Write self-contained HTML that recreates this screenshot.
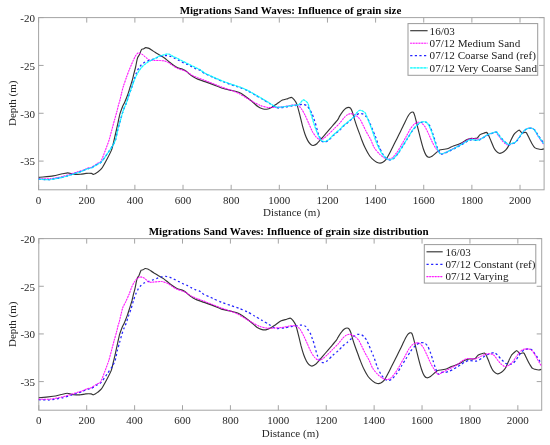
<!DOCTYPE html>
<html><head><meta charset="utf-8"><title>Migrations Sand Waves</title>
<style>
html,body{margin:0;padding:0;background:#fff}
svg{display:block;filter:blur(0.3px)}
text{font-family:"Liberation Serif",serif;fill:#262626}
.tk{font-size:11px}
.lb{font-size:11px}
.lg{font-size:11.1px;fill:#1a1a1a}
.tt{font-size:11px;font-weight:bold;fill:#000}
.c{fill:none;stroke-linejoin:round;stroke-linecap:butt}
.k{stroke:#353535;stroke-width:1.15}
.m0{stroke:#ff00ff;stroke-width:1;stroke-opacity:.4}
.m1{stroke:#ff00ff;stroke-width:1.05;stroke-dasharray:1.6 1.2;stroke-opacity:.85}
.b{stroke:#2424ff;stroke-width:1.25;stroke-dasharray:2.2 2.4}
.c0{stroke:#00ffff;stroke-width:1.15;stroke-opacity:.6}
.c1{stroke:#00f6ff;stroke-width:1.1;stroke-dasharray:2.2 1.2;stroke-opacity:.8}
</style></head><body>
<svg width="550" height="445" viewBox="0 0 550 445">
<rect width="550" height="445" fill="#fff"/>
<!-- top axes -->
<rect x="38.6" y="17.6" width="505.50" height="172.20" fill="#fff" stroke="#a4a4a4" stroke-width="1"/>
<path d="M38.6,189.8v-5M38.6,17.6v5M86.74,189.8v-5M86.74,17.6v5M134.89,189.8v-5M134.89,17.6v5M183.03,189.8v-5M183.03,17.6v5M231.17,189.8v-5M231.17,17.6v5M279.31,189.8v-5M279.31,17.6v5M327.46,189.8v-5M327.46,17.6v5M375.6,189.8v-5M375.6,17.6v5M423.74,189.8v-5M423.74,17.6v5M471.89,189.8v-5M471.89,17.6v5M520.03,189.8v-5M520.03,17.6v5M38.6,17.6h5M544.1,17.6h-5M38.6,65.43h5M544.1,65.43h-5M38.6,113.27h5M544.1,113.27h-5M38.6,161.1h5M544.1,161.1h-5" stroke="#a4a4a4" stroke-width="1" fill="none"/>
<text x="38.6" y="204.0" text-anchor="middle" class="tk">0</text>
<text x="86.7" y="204.0" text-anchor="middle" class="tk">200</text>
<text x="134.9" y="204.0" text-anchor="middle" class="tk">400</text>
<text x="183.0" y="204.0" text-anchor="middle" class="tk">600</text>
<text x="231.2" y="204.0" text-anchor="middle" class="tk">800</text>
<text x="279.3" y="204.0" text-anchor="middle" class="tk">1000</text>
<text x="327.5" y="204.0" text-anchor="middle" class="tk">1200</text>
<text x="375.6" y="204.0" text-anchor="middle" class="tk">1400</text>
<text x="423.7" y="204.0" text-anchor="middle" class="tk">1600</text>
<text x="471.9" y="204.0" text-anchor="middle" class="tk">1800</text>
<text x="520.0" y="204.0" text-anchor="middle" class="tk">2000</text>
<text x="34.9" y="21.9" text-anchor="end" class="tk">-20</text>
<text x="34.9" y="69.7" text-anchor="end" class="tk">-25</text>
<text x="34.9" y="117.6" text-anchor="end" class="tk">-30</text>
<text x="34.9" y="165.4" text-anchor="end" class="tk">-35</text>
<text x="290.5" y="13.6" text-anchor="middle" class="tt">Migrations Sand Waves: Influence of grain size</text>
<text x="291.5" y="216.3" text-anchor="middle" class="lb">Distance (m)</text>
<text transform="translate(16.2,103.3) rotate(-90)" text-anchor="middle" class="lb">Depth (m)</text>
<g clip-path="url(#cp1)">
<path d="M38.6,177.4C40.2,177.2 50.6,176.3 53.2,175.9C55.8,175.5 60.7,174.1 62.3,173.8C63.9,173.5 66.6,172.8 67.8,172.8C69.0,172.8 71.9,173.9 73.3,174.1C74.7,174.3 79.1,174.4 80.5,174.3C81.9,174.2 84.8,173.5 86.0,173.4C87.2,173.3 90.6,173.3 91.5,173.4C92.4,173.5 93.0,174.5 93.7,174.3C94.4,174.1 96.9,172.5 97.8,171.9C98.7,171.3 100.6,169.9 101.5,168.7C102.4,167.5 104.9,163.1 106.0,161.0C107.1,158.9 110.6,152.4 111.5,150.1C112.4,147.8 113.6,142.2 114.1,140.0C114.6,137.8 115.9,132.0 116.4,130.0C116.9,128.0 117.8,123.6 118.2,121.8C118.6,120.0 119.5,115.2 120.0,113.6C120.5,112.0 121.8,108.6 122.3,107.3C122.8,106.0 124.2,103.4 124.8,102.0C125.4,100.6 127.1,96.3 127.7,94.7C128.3,93.1 129.5,89.1 130.0,87.5C130.5,85.9 131.8,81.8 132.3,80.2C132.8,78.6 133.7,74.3 134.1,72.9C134.5,71.5 135.2,68.7 135.5,67.5C135.8,66.3 136.4,63.1 136.6,62.0C136.8,60.9 137.4,58.3 137.7,57.5C138.0,56.7 139.2,55.2 139.5,54.5C139.8,53.8 140.4,52.2 140.6,51.6C140.8,51.0 141.4,49.6 141.7,49.3C142.0,49.0 143.1,49.1 143.5,48.9C143.9,48.7 145.2,47.7 145.7,47.6C146.2,47.5 147.7,47.9 148.3,48.1C148.9,48.3 150.5,49.3 151.2,49.8C151.9,50.3 154.1,51.7 155.0,52.3C155.9,52.9 158.5,54.4 159.5,55.0C160.5,55.6 163.1,57.0 164.1,57.7C165.1,58.4 167.6,60.6 168.6,61.4C169.6,62.2 172.2,64.3 173.2,65.0C174.2,65.7 176.7,67.2 177.7,67.7C178.7,68.2 181.4,68.7 182.3,69.1C183.2,69.5 185.1,70.3 185.9,70.9C186.7,71.5 188.7,73.4 189.5,74.1C190.3,74.8 192.3,76.2 193.2,76.8C194.1,77.4 196.4,78.6 197.7,79.1C199.0,79.6 203.3,81.0 205.0,81.6C206.7,82.2 211.3,83.9 213.2,84.6C215.1,85.3 220.3,87.7 222.3,88.3C224.3,88.9 229.6,90.0 231.4,90.4C233.2,90.8 237.3,91.7 238.7,92.3C240.1,92.9 242.8,94.5 244.2,95.5C245.6,96.5 250.0,99.8 251.5,101.0C253.0,102.2 256.6,105.6 257.8,106.5C259.0,107.4 261.4,108.4 262.4,108.7C263.4,109.0 265.9,109.3 266.9,109.2C267.9,109.1 270.4,108.0 271.5,107.4C272.6,106.8 275.8,104.5 277.0,103.7C278.2,102.9 281.2,100.7 282.4,100.1C283.6,99.5 286.9,98.9 287.9,98.6C288.9,98.3 290.7,97.3 291.4,97.4C292.1,97.5 293.5,98.9 294.1,99.6C294.7,100.3 296.2,102.5 296.8,104.1C297.4,105.7 299.0,111.8 299.6,114.1C300.2,116.4 301.7,122.9 302.3,125.1C302.9,127.3 304.4,132.5 305.0,134.2C305.6,135.9 307.2,139.5 307.8,140.6C308.4,141.7 309.9,143.7 310.5,144.2C311.1,144.7 312.5,145.6 313.2,145.5C313.9,145.4 316.0,144.5 316.9,143.7C317.8,142.9 320.3,140.0 321.4,138.7C322.5,137.4 325.7,133.8 326.9,132.4C328.1,131.0 331.2,127.4 332.4,126.0C333.6,124.6 337.0,120.7 337.8,119.6C338.6,118.5 338.9,117.4 339.5,116.4C340.1,115.4 342.5,111.8 343.2,110.9C343.9,110.0 345.3,108.6 345.9,108.2C346.5,107.8 348.1,107.3 348.6,107.3C349.1,107.3 350.1,107.7 350.5,108.2C350.9,108.7 351.9,110.7 352.3,111.8C352.7,112.9 353.6,116.6 354.1,118.2C354.6,119.8 356.2,124.7 356.8,126.4C357.4,128.1 358.9,132.1 359.5,133.6C360.1,135.1 361.2,138.4 361.8,140.0C362.4,141.6 364.2,146.0 365.1,147.8C366.0,149.6 368.7,154.6 369.7,156.0C370.7,157.4 373.3,159.8 374.3,160.6C375.3,161.4 377.9,162.8 378.8,163.0C379.7,163.2 381.6,163.0 382.4,162.6C383.2,162.2 385.1,160.7 385.9,159.7C386.7,158.7 388.8,154.8 389.6,153.3C390.4,151.8 392.4,147.6 393.2,146.0C394.0,144.4 396.1,140.3 396.9,138.7C397.7,137.1 399.7,133.0 400.5,131.4C401.3,129.8 403.3,125.8 404.1,124.1C404.9,122.4 407.1,117.7 407.8,116.5C408.5,115.3 409.9,113.4 410.5,112.9C411.1,112.4 412.8,111.9 413.3,112.3C413.8,112.7 414.6,115.2 415.1,116.9C415.6,118.6 417.2,125.4 417.8,127.8C418.4,130.2 419.9,136.4 420.5,138.7C421.1,141.0 422.7,146.9 423.3,148.7C423.9,150.5 425.4,154.1 426.0,155.1C426.6,156.1 428.0,157.2 428.7,157.3C429.4,157.4 431.6,156.5 432.4,156.0C433.2,155.5 435.2,153.6 436.0,152.9C436.8,152.2 438.8,150.4 439.7,150.0C440.6,149.6 443.2,149.5 444.2,149.3C445.2,149.1 447.8,148.6 448.8,148.2C449.8,147.8 452.3,146.4 453.3,146.0C454.3,145.6 456.9,144.9 457.9,144.5C458.9,144.1 461.4,142.9 462.4,142.4C463.4,141.9 466.0,140.0 467.0,139.6C468.0,139.2 470.7,138.5 471.5,138.4C472.3,138.3 473.9,138.6 474.5,138.5C475.1,138.4 476.7,138.3 477.3,137.9C477.9,137.5 479.4,135.1 480.1,134.6C480.8,134.1 483.0,133.4 483.7,133.2C484.4,133.0 485.9,132.2 486.4,132.4C486.9,132.6 487.8,133.6 488.3,134.6C488.8,135.6 490.4,139.6 491.0,141.0C491.6,142.4 493.1,146.2 493.7,147.4C494.3,148.6 495.8,150.8 496.4,151.4C497.0,152.0 498.6,153.0 499.2,153.2C499.8,153.4 501.2,153.1 501.9,152.8C502.6,152.5 504.9,150.8 505.6,150.1C506.3,149.4 507.7,147.5 508.3,146.4C508.9,145.3 510.4,141.4 511.0,140.1C511.6,138.8 513.2,135.5 513.8,134.6C514.4,133.7 515.9,132.4 516.5,131.9C517.1,131.4 518.6,130.0 519.2,130.1C519.8,130.2 521.3,132.5 521.9,132.8C522.5,133.1 524.2,132.4 524.7,132.4C525.2,132.4 526.0,132.1 526.5,132.8C527.0,133.5 528.6,137.1 529.2,138.3C529.8,139.5 531.4,142.7 532.0,143.7C532.6,144.7 534.1,147.1 534.7,147.7C535.3,148.3 536.7,148.6 537.4,148.8C538.1,149.0 540.4,149.5 541.1,149.5C541.8,149.5 543.5,148.9 543.8,148.8" class="c k"/>
<path d="M38.6,178.8C39.8,178.8 47.0,179.0 49.6,178.8C52.2,178.6 59.9,177.2 62.3,176.6C64.7,176.0 69.2,174.5 71.4,173.8C73.6,173.1 80.6,171.0 82.4,170.4C84.2,169.8 86.8,168.4 87.8,168.1C88.8,167.8 90.5,167.8 91.5,167.3C92.5,166.8 95.9,164.4 96.9,163.7C97.9,163.0 100.0,162.8 100.9,161.4C101.8,160.0 104.2,153.4 105.1,151.0C106.0,148.6 108.4,142.3 109.1,140.0C109.8,137.7 111.2,132.2 111.8,130.0C112.4,127.8 113.9,122.0 114.5,120.0C115.1,118.0 116.3,113.5 116.8,111.8C117.3,110.1 118.3,105.6 118.6,104.5C118.9,103.4 119.3,102.7 119.6,101.5C119.9,100.3 121.0,95.6 121.4,93.8C121.8,92.0 123.0,87.4 123.6,85.6C124.2,83.8 125.8,79.2 126.4,77.5C127.0,75.8 128.5,71.6 129.1,70.2C129.7,68.8 131.0,65.7 131.4,64.7C131.8,63.7 132.6,62.0 133.0,61.1C133.4,60.2 134.8,57.2 135.2,56.4C135.6,55.6 136.6,54.2 137.0,53.8C137.4,53.4 138.1,52.9 138.5,52.9C138.9,52.9 139.9,53.3 140.3,53.5C140.7,53.7 142.0,54.2 142.5,54.5C143.0,54.8 144.1,56.0 144.6,56.4C145.1,56.8 146.3,57.8 146.8,58.2C147.3,58.6 148.5,59.6 149.0,59.8C149.5,60.0 150.5,60.3 151.2,60.4C151.9,60.5 154.1,60.4 155.0,60.4C155.9,60.4 158.5,60.4 159.5,60.5C160.5,60.6 163.1,60.7 164.1,60.9C165.1,61.1 167.6,62.1 168.6,62.7C169.6,63.3 172.2,65.3 173.2,65.9C174.2,66.5 176.7,68.0 177.7,68.5C178.7,69.0 181.4,69.7 182.3,70.0C183.2,70.3 185.1,71.0 185.9,71.4C186.7,71.8 188.7,73.1 189.5,73.6C190.3,74.1 192.3,75.4 193.2,75.9C194.1,76.4 196.5,77.2 197.7,77.7C198.9,78.2 202.4,79.4 204.1,80.1C205.8,80.8 211.2,82.9 213.2,83.7C215.2,84.5 220.3,86.6 222.3,87.3C224.3,88.0 229.6,89.7 231.4,90.4C233.2,91.1 237.1,92.6 238.7,93.4C240.3,94.2 244.4,96.8 246.0,97.7C247.6,98.6 251.7,101.0 253.3,101.9C254.9,102.8 259.0,105.0 260.6,105.6C262.2,106.2 266.3,107.2 267.9,107.4C269.5,107.6 273.5,107.5 275.1,107.4C276.7,107.3 280.8,107.0 282.4,106.8C284.0,106.6 288.6,105.8 289.7,105.6C290.8,105.4 291.4,105.0 292.3,105.0C293.2,105.0 296.8,105.0 297.8,105.4C298.8,105.8 300.6,107.6 301.4,108.7C302.2,109.8 304.2,113.5 305.0,115.1C305.8,116.7 307.9,121.5 308.7,123.3C309.5,125.1 311.5,129.9 312.3,131.4C313.1,132.9 315.2,136.0 316.0,136.9C316.8,137.8 318.8,139.4 319.6,139.6C320.4,139.8 322.3,139.3 323.3,138.7C324.3,138.1 327.5,135.3 328.7,134.2C329.9,133.1 333.0,129.9 334.2,128.7C335.4,127.5 338.5,124.5 339.6,123.3C340.7,122.1 343.2,118.7 344.1,117.7C345.0,116.7 346.9,115.0 347.7,114.5C348.5,114.0 350.2,113.6 350.9,113.6C351.6,113.6 353.3,114.1 354.1,114.5C354.9,114.9 357.0,116.2 357.7,116.8C358.4,117.4 359.9,119.0 360.5,120.0C361.1,121.0 362.6,124.3 363.2,125.5C363.8,126.7 365.3,129.7 365.9,130.9C366.5,132.1 368.0,134.9 368.6,135.9C369.2,136.9 370.3,138.7 370.9,140.0C371.5,141.3 373.3,146.2 374.3,147.8C375.3,149.4 378.5,153.1 379.6,154.2C380.7,155.3 383.1,157.3 384.1,157.8C385.1,158.3 387.8,159.1 388.7,159.1C389.6,159.1 391.4,158.5 392.3,157.8C393.2,157.1 395.9,153.8 396.9,152.4C397.9,151.0 400.4,146.8 401.4,145.1C402.4,143.4 405.0,138.7 406.0,136.9C407.0,135.1 409.6,130.1 410.5,128.7C411.4,127.3 413.4,124.8 414.2,124.1C415.0,123.4 417.0,122.5 417.8,122.3C418.6,122.1 420.6,122.2 421.4,122.7C422.2,123.2 424.3,125.6 425.1,126.9C425.9,128.2 427.9,132.5 428.7,134.2C429.5,135.9 431.6,140.8 432.4,142.4C433.2,144.0 435.2,147.5 436.0,148.7C436.8,149.9 439.2,152.8 440.0,153.3C440.8,153.8 442.1,153.7 443.0,153.5C443.9,153.3 447.0,151.8 448.0,151.3C449.0,150.8 451.1,149.8 452.0,149.3C452.9,148.8 455.1,147.7 456.0,147.2C456.9,146.7 459.1,145.3 460.0,144.8C460.9,144.3 463.1,142.9 464.0,142.3C464.9,141.7 467.1,139.9 468.0,139.5C468.9,139.1 471.1,138.6 472.0,138.5C472.9,138.4 475.1,138.9 476.0,139.0C476.9,139.1 479.1,139.2 480.0,139.0C480.9,138.8 483.2,137.4 484.0,137.0C484.8,136.6 486.3,135.4 487.0,135.0C487.7,134.6 489.3,133.9 490.0,133.7C490.7,133.5 492.5,133.0 493.2,132.8C493.9,132.6 495.4,131.9 496.0,132.3C496.6,132.7 498.3,135.6 499.0,136.5C499.7,137.4 501.3,139.7 502.0,140.5C502.7,141.3 504.4,143.0 505.0,143.5C505.6,144.0 506.8,144.8 507.5,144.8C508.2,144.8 510.2,144.1 511.0,143.9C511.8,143.7 513.9,143.2 514.7,142.7C515.5,142.2 517.4,139.8 518.0,139.0C518.6,138.2 519.9,136.3 520.5,135.5C521.1,134.7 522.4,132.7 523.0,132.0C523.6,131.3 524.9,129.9 525.5,129.5C526.1,129.1 527.8,128.3 528.5,128.2C529.2,128.1 531.3,128.0 532.0,128.2C532.7,128.4 533.9,129.5 534.5,130.2C535.1,130.9 536.4,133.5 537.0,134.5C537.6,135.5 539.3,138.1 540.0,139.2C540.7,140.3 543.1,143.7 543.5,144.3" class="c m0"/><path d="M38.6,178.8C39.8,178.8 47.0,179.0 49.6,178.8C52.2,178.6 59.9,177.2 62.3,176.6C64.7,176.0 69.2,174.5 71.4,173.8C73.6,173.1 80.6,171.0 82.4,170.4C84.2,169.8 86.8,168.4 87.8,168.1C88.8,167.8 90.5,167.8 91.5,167.3C92.5,166.8 95.9,164.4 96.9,163.7C97.9,163.0 100.0,162.8 100.9,161.4C101.8,160.0 104.2,153.4 105.1,151.0C106.0,148.6 108.4,142.3 109.1,140.0C109.8,137.7 111.2,132.2 111.8,130.0C112.4,127.8 113.9,122.0 114.5,120.0C115.1,118.0 116.3,113.5 116.8,111.8C117.3,110.1 118.3,105.6 118.6,104.5C118.9,103.4 119.3,102.7 119.6,101.5C119.9,100.3 121.0,95.6 121.4,93.8C121.8,92.0 123.0,87.4 123.6,85.6C124.2,83.8 125.8,79.2 126.4,77.5C127.0,75.8 128.5,71.6 129.1,70.2C129.7,68.8 131.0,65.7 131.4,64.7C131.8,63.7 132.6,62.0 133.0,61.1C133.4,60.2 134.8,57.2 135.2,56.4C135.6,55.6 136.6,54.2 137.0,53.8C137.4,53.4 138.1,52.9 138.5,52.9C138.9,52.9 139.9,53.3 140.3,53.5C140.7,53.7 142.0,54.2 142.5,54.5C143.0,54.8 144.1,56.0 144.6,56.4C145.1,56.8 146.3,57.8 146.8,58.2C147.3,58.6 148.5,59.6 149.0,59.8C149.5,60.0 150.5,60.3 151.2,60.4C151.9,60.5 154.1,60.4 155.0,60.4C155.9,60.4 158.5,60.4 159.5,60.5C160.5,60.6 163.1,60.7 164.1,60.9C165.1,61.1 167.6,62.1 168.6,62.7C169.6,63.3 172.2,65.3 173.2,65.9C174.2,66.5 176.7,68.0 177.7,68.5C178.7,69.0 181.4,69.7 182.3,70.0C183.2,70.3 185.1,71.0 185.9,71.4C186.7,71.8 188.7,73.1 189.5,73.6C190.3,74.1 192.3,75.4 193.2,75.9C194.1,76.4 196.5,77.2 197.7,77.7C198.9,78.2 202.4,79.4 204.1,80.1C205.8,80.8 211.2,82.9 213.2,83.7C215.2,84.5 220.3,86.6 222.3,87.3C224.3,88.0 229.6,89.7 231.4,90.4C233.2,91.1 237.1,92.6 238.7,93.4C240.3,94.2 244.4,96.8 246.0,97.7C247.6,98.6 251.7,101.0 253.3,101.9C254.9,102.8 259.0,105.0 260.6,105.6C262.2,106.2 266.3,107.2 267.9,107.4C269.5,107.6 273.5,107.5 275.1,107.4C276.7,107.3 280.8,107.0 282.4,106.8C284.0,106.6 288.6,105.8 289.7,105.6C290.8,105.4 291.4,105.0 292.3,105.0C293.2,105.0 296.8,105.0 297.8,105.4C298.8,105.8 300.6,107.6 301.4,108.7C302.2,109.8 304.2,113.5 305.0,115.1C305.8,116.7 307.9,121.5 308.7,123.3C309.5,125.1 311.5,129.9 312.3,131.4C313.1,132.9 315.2,136.0 316.0,136.9C316.8,137.8 318.8,139.4 319.6,139.6C320.4,139.8 322.3,139.3 323.3,138.7C324.3,138.1 327.5,135.3 328.7,134.2C329.9,133.1 333.0,129.9 334.2,128.7C335.4,127.5 338.5,124.5 339.6,123.3C340.7,122.1 343.2,118.7 344.1,117.7C345.0,116.7 346.9,115.0 347.7,114.5C348.5,114.0 350.2,113.6 350.9,113.6C351.6,113.6 353.3,114.1 354.1,114.5C354.9,114.9 357.0,116.2 357.7,116.8C358.4,117.4 359.9,119.0 360.5,120.0C361.1,121.0 362.6,124.3 363.2,125.5C363.8,126.7 365.3,129.7 365.9,130.9C366.5,132.1 368.0,134.9 368.6,135.9C369.2,136.9 370.3,138.7 370.9,140.0C371.5,141.3 373.3,146.2 374.3,147.8C375.3,149.4 378.5,153.1 379.6,154.2C380.7,155.3 383.1,157.3 384.1,157.8C385.1,158.3 387.8,159.1 388.7,159.1C389.6,159.1 391.4,158.5 392.3,157.8C393.2,157.1 395.9,153.8 396.9,152.4C397.9,151.0 400.4,146.8 401.4,145.1C402.4,143.4 405.0,138.7 406.0,136.9C407.0,135.1 409.6,130.1 410.5,128.7C411.4,127.3 413.4,124.8 414.2,124.1C415.0,123.4 417.0,122.5 417.8,122.3C418.6,122.1 420.6,122.2 421.4,122.7C422.2,123.2 424.3,125.6 425.1,126.9C425.9,128.2 427.9,132.5 428.7,134.2C429.5,135.9 431.6,140.8 432.4,142.4C433.2,144.0 435.2,147.5 436.0,148.7C436.8,149.9 439.2,152.8 440.0,153.3C440.8,153.8 442.1,153.7 443.0,153.5C443.9,153.3 447.0,151.8 448.0,151.3C449.0,150.8 451.1,149.8 452.0,149.3C452.9,148.8 455.1,147.7 456.0,147.2C456.9,146.7 459.1,145.3 460.0,144.8C460.9,144.3 463.1,142.9 464.0,142.3C464.9,141.7 467.1,139.9 468.0,139.5C468.9,139.1 471.1,138.6 472.0,138.5C472.9,138.4 475.1,138.9 476.0,139.0C476.9,139.1 479.1,139.2 480.0,139.0C480.9,138.8 483.2,137.4 484.0,137.0C484.8,136.6 486.3,135.4 487.0,135.0C487.7,134.6 489.3,133.9 490.0,133.7C490.7,133.5 492.5,133.0 493.2,132.8C493.9,132.6 495.4,131.9 496.0,132.3C496.6,132.7 498.3,135.6 499.0,136.5C499.7,137.4 501.3,139.7 502.0,140.5C502.7,141.3 504.4,143.0 505.0,143.5C505.6,144.0 506.8,144.8 507.5,144.8C508.2,144.8 510.2,144.1 511.0,143.9C511.8,143.7 513.9,143.2 514.7,142.7C515.5,142.2 517.4,139.8 518.0,139.0C518.6,138.2 519.9,136.3 520.5,135.5C521.1,134.7 522.4,132.7 523.0,132.0C523.6,131.3 524.9,129.9 525.5,129.5C526.1,129.1 527.8,128.3 528.5,128.2C529.2,128.1 531.3,128.0 532.0,128.2C532.7,128.4 533.9,129.5 534.5,130.2C535.1,130.9 536.4,133.5 537.0,134.5C537.6,135.5 539.3,138.1 540.0,139.2C540.7,140.3 543.1,143.7 543.5,144.3" class="c m1"/>
<path d="M38.6,179.2C39.8,179.2 47.0,179.8 49.6,179.6C52.2,179.4 59.9,177.9 62.3,177.4C64.7,176.9 69.2,175.4 71.4,174.7C73.6,174.0 80.6,171.7 82.4,171.0C84.2,170.3 86.8,169.0 87.8,168.7C88.8,168.4 90.5,168.4 91.5,167.9C92.5,167.4 95.8,165.3 96.9,164.6C98.0,163.9 100.3,163.2 101.5,161.9C102.7,160.6 106.7,154.6 107.9,152.8C109.1,151.0 111.7,147.4 112.5,146.0C113.3,144.6 114.9,141.8 115.5,140.0C116.1,138.2 117.2,132.0 117.7,130.0C118.2,128.0 119.5,123.6 120.0,121.8C120.5,120.0 121.8,115.2 122.3,113.6C122.8,112.0 124.0,108.5 124.5,107.3C125.0,106.1 126.1,103.8 126.6,102.4C127.1,101.0 128.6,96.3 129.1,94.7C129.6,93.1 130.8,90.1 131.4,88.4C132.0,86.7 133.5,81.0 134.1,79.3C134.7,77.6 135.9,74.1 136.4,72.9C136.9,71.7 138.0,69.3 138.6,68.4C139.2,67.5 140.7,65.4 141.4,64.7C142.1,64.0 144.2,62.5 145.0,62.0C145.8,61.5 148.1,60.8 149.0,60.5C149.9,60.2 152.5,59.3 153.4,59.0C154.3,58.7 156.5,57.8 157.5,57.5C158.5,57.2 161.0,56.2 162.0,56.0C163.0,55.8 165.9,55.5 166.8,55.5C167.7,55.5 169.6,56.1 170.5,56.4C171.4,56.7 173.5,57.7 174.5,58.2C175.5,58.7 178.1,60.0 179.1,60.5C180.1,61.0 182.2,62.3 183.2,62.7C184.2,63.1 186.7,64.0 187.7,64.5C188.7,65.0 190.9,66.3 191.8,66.8C192.7,67.3 194.9,68.4 195.9,68.8C196.9,69.2 200.0,70.0 200.9,70.5C201.9,71.1 203.0,72.6 204.4,73.3C205.8,74.1 211.4,76.6 213.4,77.5C215.5,78.5 220.5,80.8 222.5,81.5C224.5,82.3 229.6,84.0 231.6,84.8C233.6,85.5 238.9,87.2 240.7,87.8C242.5,88.5 246.4,90.1 248.1,91.0C249.7,91.8 253.8,94.2 255.4,95.1C257.0,96.1 261.1,98.4 262.7,99.3C264.3,100.3 268.6,102.9 270.0,103.8C271.4,104.6 274.4,106.6 275.3,107.0C276.3,107.5 277.6,108.0 278.8,108.0C280.0,108.0 284.6,107.3 286.1,107.0C287.6,106.8 290.5,106.2 292.3,106.0C294.1,105.7 301.1,104.4 302.7,104.4C304.3,104.4 306.3,105.2 307.1,105.8C307.9,106.4 309.0,108.6 309.6,109.5C310.2,110.4 311.8,112.8 312.2,113.8C312.6,114.8 313.3,117.3 313.6,118.2C313.9,119.1 314.5,120.4 315.1,122.2C315.7,124.0 317.8,132.6 318.6,134.8C319.4,136.9 321.2,140.3 321.9,141.2C322.7,142.0 324.3,142.2 325.1,142.1C325.9,141.9 327.7,141.0 328.7,140.2C329.7,139.3 333.0,135.9 334.2,134.8C335.4,133.6 338.5,131.2 339.6,130.2C340.7,129.1 343.1,126.5 344.1,125.5C345.1,124.6 347.6,122.8 348.6,122.0C349.6,121.1 352.3,118.4 353.2,117.6C354.1,116.8 355.7,115.4 356.4,115.0C357.1,114.6 358.3,113.7 359.1,113.6C359.9,113.5 362.4,113.8 363.2,114.1C364.0,114.4 365.3,115.8 365.9,116.4C366.5,117.0 367.7,118.6 368.2,119.5C368.7,120.4 370.0,123.3 370.5,124.5C371.0,125.7 372.2,128.8 372.7,130.0C373.2,131.2 374.6,134.5 375.0,135.5C375.4,136.5 376.0,137.8 376.4,139.1C376.8,140.4 378.3,145.1 379.0,146.8C379.7,148.5 382.2,153.1 383.1,154.5C384.0,155.9 386.3,158.5 387.2,159.1C388.0,159.7 389.7,160.1 390.5,160.0C391.3,159.9 393.2,158.9 394.1,158.1C395.0,157.3 397.7,154.1 398.7,152.7C399.7,151.3 402.2,147.0 403.2,145.4C404.2,143.8 406.8,139.7 407.8,138.1C408.8,136.5 411.3,132.2 412.3,130.8C413.3,129.4 415.9,126.3 416.9,125.4C417.9,124.5 420.4,122.6 421.4,122.3C422.4,122.0 425.3,122.0 426.2,122.3C427.1,122.6 428.8,124.4 429.5,125.4C430.2,126.4 431.5,130.1 432.1,131.7C432.7,133.3 434.2,138.1 434.8,139.9C435.4,141.7 436.9,146.6 437.5,148.1C438.2,149.6 439.8,153.2 440.4,153.8C441.0,154.4 442.2,154.0 443.0,153.8C443.8,153.6 447.0,152.2 448.0,151.8C449.0,151.4 451.1,150.2 452.0,149.8C452.9,149.4 455.1,148.3 456.0,147.8C456.9,147.3 459.1,146.0 460.0,145.5C460.9,145.0 463.1,143.8 464.0,143.3C464.9,142.8 467.2,141.2 468.0,140.8C468.8,140.4 470.2,139.9 471.0,139.8C471.8,139.7 474.3,140.2 475.0,140.3C475.8,140.4 477.3,140.6 478.0,140.5C478.7,140.4 480.3,139.7 481.0,139.3C481.7,138.9 483.3,137.7 484.0,137.3C484.7,136.9 486.3,135.7 487.0,135.3C487.7,134.9 489.3,134.3 490.0,134.0C490.7,133.7 492.8,133.1 493.5,132.9C494.2,132.7 496.1,131.8 496.7,132.1C497.4,132.4 498.9,135.0 499.6,135.8C500.2,136.6 501.8,138.6 502.5,139.3C503.1,140.0 504.7,141.7 505.4,142.3C506.0,142.9 507.9,144.6 508.6,144.8C509.3,145.0 510.8,144.0 511.5,143.8C512.2,143.6 514.3,143.3 515.0,142.8C515.7,142.3 517.4,140.1 518.0,139.3C518.6,138.5 519.9,136.6 520.5,135.8C521.1,135.0 522.4,133.0 523.0,132.3C523.6,131.6 524.9,130.2 525.5,129.8C526.1,129.4 527.8,128.6 528.5,128.5C529.2,128.4 531.4,128.3 532.1,128.5C532.8,128.7 534.4,129.7 535.0,130.3C535.6,130.9 537.0,133.4 537.6,134.3C538.3,135.2 539.9,137.7 540.6,138.8C541.3,139.9 543.7,143.2 544.1,143.8" class="c b"/>
<path d="M38.6,179.2C39.8,179.2 47.0,179.8 49.6,179.6C52.2,179.4 59.9,177.9 62.3,177.4C64.7,176.9 69.2,175.4 71.4,174.7C73.6,174.0 80.6,171.7 82.4,171.0C84.2,170.3 86.8,169.0 87.8,168.7C88.8,168.4 90.5,168.4 91.5,167.9C92.5,167.4 95.8,165.3 96.9,164.6C98.0,163.9 100.3,163.2 101.5,161.9C102.7,160.6 106.7,154.6 107.9,152.8C109.1,151.0 111.7,147.4 112.5,146.0C113.3,144.6 114.9,141.8 115.5,140.0C116.1,138.2 117.2,132.0 117.7,130.0C118.2,128.0 119.5,123.6 120.0,121.8C120.5,120.0 121.8,115.2 122.3,113.6C122.8,112.0 124.0,108.5 124.5,107.3C125.0,106.1 126.1,103.8 126.6,102.4C127.1,101.0 128.6,96.3 129.1,94.7C129.6,93.1 130.9,89.8 131.4,88.4C131.9,87.0 133.1,83.3 133.6,82.0C134.1,80.7 135.3,77.7 135.9,76.5C136.5,75.3 138.0,72.5 138.6,71.5C139.2,70.5 140.7,68.3 141.4,67.5C142.1,66.7 144.0,65.0 144.8,64.4C145.6,63.8 147.5,62.3 148.3,61.8C149.1,61.3 151.1,60.4 151.9,60.0C152.7,59.6 154.8,58.6 155.5,58.2C156.2,57.8 157.7,56.8 158.6,56.4C159.5,56.0 162.3,55.3 163.2,55.0C164.1,54.7 166.1,54.2 166.8,54.1C167.5,54.0 168.8,54.0 169.5,54.3C170.2,54.6 172.3,55.9 173.2,56.4C174.1,56.9 176.7,58.1 177.7,58.6C178.7,59.1 181.3,60.4 182.3,60.9C183.3,61.4 185.8,62.7 186.8,63.2C187.8,63.7 190.4,65.0 191.4,65.5C192.4,66.0 194.9,67.2 195.9,67.7C196.9,68.2 199.6,69.4 200.5,70.0C201.4,70.6 202.7,72.0 204.1,72.8C205.5,73.6 211.2,76.1 213.2,77.0C215.2,77.9 220.3,80.2 222.3,81.0C224.3,81.8 229.4,83.5 231.4,84.2C233.4,84.9 238.7,86.6 240.5,87.3C242.3,88.0 246.2,89.6 247.8,90.4C249.4,91.2 253.5,93.7 255.1,94.6C256.7,95.5 260.8,97.8 262.4,98.8C264.0,99.8 268.3,102.3 269.7,103.2C271.1,104.1 274.1,106.0 275.1,106.5C276.1,107.0 277.6,107.4 278.8,107.4C280.0,107.4 284.6,106.7 286.1,106.5C287.6,106.3 290.9,105.6 292.3,105.4C293.7,105.2 297.5,105.3 298.7,104.7C299.9,104.1 302.2,100.1 303.2,99.9C304.2,99.7 307.0,101.8 307.8,103.2C308.6,104.6 309.8,110.0 310.5,112.3C311.2,114.6 313.3,121.8 314.1,124.2C314.9,126.6 317.0,132.4 317.8,134.2C318.6,136.0 320.6,139.8 321.4,140.6C322.2,141.4 324.3,141.6 325.1,141.5C325.9,141.4 327.7,140.4 328.7,139.6C329.7,138.8 333.0,135.3 334.2,134.2C335.4,133.1 338.5,130.6 339.6,129.6C340.7,128.6 343.1,125.9 344.1,125.0C345.1,124.1 347.6,122.3 348.6,121.4C349.6,120.5 352.3,118.2 353.2,117.3C354.1,116.4 355.7,114.0 356.4,113.2C357.1,112.4 358.5,110.8 359.1,110.5C359.7,110.2 360.7,110.3 361.4,110.5C362.1,110.7 364.4,112.1 365.0,112.7C365.6,113.3 366.0,114.6 366.4,115.5C366.8,116.4 368.0,119.5 368.6,120.9C369.2,122.3 370.8,126.7 371.4,128.2C372.0,129.7 373.1,133.2 373.6,134.5C374.1,135.8 375.0,138.7 375.5,140.0C376.0,141.3 377.4,144.9 378.2,146.5C379.0,148.1 381.3,152.8 382.3,154.2C383.3,155.6 385.9,158.2 386.8,158.8C387.7,159.4 389.7,159.8 390.5,159.7C391.3,159.6 393.2,158.6 394.1,157.8C395.0,157.0 397.7,153.8 398.7,152.4C399.7,151.0 402.2,146.7 403.2,145.1C404.2,143.5 406.8,139.4 407.8,137.8C408.8,136.2 411.3,131.9 412.3,130.5C413.3,129.1 415.9,126.0 416.9,125.1C417.9,124.2 420.4,122.3 421.4,122.0C422.4,121.7 425.2,121.7 426.0,122.0C426.8,122.3 428.1,124.1 428.7,125.1C429.3,126.1 430.9,129.8 431.5,131.4C432.1,133.0 433.6,137.8 434.2,139.6C434.8,141.4 436.3,146.3 436.9,147.8C437.5,149.3 439.3,152.9 440.0,153.5C440.7,154.1 442.1,153.7 443.0,153.5C443.9,153.3 447.0,151.9 448.0,151.5C449.0,151.1 451.1,149.9 452.0,149.5C452.9,149.1 455.1,148.0 456.0,147.5C456.9,147.0 459.1,145.7 460.0,145.2C460.9,144.7 463.1,143.5 464.0,143.0C464.9,142.5 467.2,140.9 468.0,140.5C468.8,140.1 470.2,139.6 471.0,139.5C471.8,139.4 474.2,139.9 475.0,140.0C475.8,140.1 477.3,140.3 478.0,140.2C478.7,140.1 480.3,139.4 481.0,139.0C481.7,138.6 483.3,137.4 484.0,137.0C484.7,136.6 486.3,135.4 487.0,135.0C487.7,134.6 489.3,134.0 490.0,133.7C490.7,133.4 492.8,132.8 493.5,132.6C494.2,132.4 495.9,131.5 496.5,131.8C497.1,132.1 498.4,134.7 499.0,135.5C499.6,136.3 501.3,138.3 502.0,139.0C502.7,139.7 504.3,141.4 505.0,142.0C505.7,142.6 507.8,144.3 508.5,144.5C509.2,144.7 510.8,143.7 511.5,143.5C512.2,143.3 514.3,143.0 515.0,142.5C515.7,142.0 517.4,139.8 518.0,139.0C518.6,138.2 519.9,136.3 520.5,135.5C521.1,134.7 522.4,132.7 523.0,132.0C523.6,131.3 524.9,129.9 525.5,129.5C526.1,129.1 527.8,128.3 528.5,128.2C529.2,128.1 531.3,128.0 532.0,128.2C532.7,128.4 533.9,129.4 534.5,130.0C535.1,130.6 536.4,133.1 537.0,134.0C537.6,134.9 539.3,137.4 540.0,138.5C540.7,139.6 543.1,142.9 543.5,143.5" class="c c0"/><path d="M38.6,179.2C39.8,179.2 47.0,179.8 49.6,179.6C52.2,179.4 59.9,177.9 62.3,177.4C64.7,176.9 69.2,175.4 71.4,174.7C73.6,174.0 80.6,171.7 82.4,171.0C84.2,170.3 86.8,169.0 87.8,168.7C88.8,168.4 90.5,168.4 91.5,167.9C92.5,167.4 95.8,165.3 96.9,164.6C98.0,163.9 100.3,163.2 101.5,161.9C102.7,160.6 106.7,154.6 107.9,152.8C109.1,151.0 111.7,147.4 112.5,146.0C113.3,144.6 114.9,141.8 115.5,140.0C116.1,138.2 117.2,132.0 117.7,130.0C118.2,128.0 119.5,123.6 120.0,121.8C120.5,120.0 121.8,115.2 122.3,113.6C122.8,112.0 124.0,108.5 124.5,107.3C125.0,106.1 126.1,103.8 126.6,102.4C127.1,101.0 128.6,96.3 129.1,94.7C129.6,93.1 130.9,89.8 131.4,88.4C131.9,87.0 133.1,83.3 133.6,82.0C134.1,80.7 135.3,77.7 135.9,76.5C136.5,75.3 138.0,72.5 138.6,71.5C139.2,70.5 140.7,68.3 141.4,67.5C142.1,66.7 144.0,65.0 144.8,64.4C145.6,63.8 147.5,62.3 148.3,61.8C149.1,61.3 151.1,60.4 151.9,60.0C152.7,59.6 154.8,58.6 155.5,58.2C156.2,57.8 157.7,56.8 158.6,56.4C159.5,56.0 162.3,55.3 163.2,55.0C164.1,54.7 166.1,54.2 166.8,54.1C167.5,54.0 168.8,54.0 169.5,54.3C170.2,54.6 172.3,55.9 173.2,56.4C174.1,56.9 176.7,58.1 177.7,58.6C178.7,59.1 181.3,60.4 182.3,60.9C183.3,61.4 185.8,62.7 186.8,63.2C187.8,63.7 190.4,65.0 191.4,65.5C192.4,66.0 194.9,67.2 195.9,67.7C196.9,68.2 199.6,69.4 200.5,70.0C201.4,70.6 202.7,72.0 204.1,72.8C205.5,73.6 211.2,76.1 213.2,77.0C215.2,77.9 220.3,80.2 222.3,81.0C224.3,81.8 229.4,83.5 231.4,84.2C233.4,84.9 238.7,86.6 240.5,87.3C242.3,88.0 246.2,89.6 247.8,90.4C249.4,91.2 253.5,93.7 255.1,94.6C256.7,95.5 260.8,97.8 262.4,98.8C264.0,99.8 268.3,102.3 269.7,103.2C271.1,104.1 274.1,106.0 275.1,106.5C276.1,107.0 277.6,107.4 278.8,107.4C280.0,107.4 284.6,106.7 286.1,106.5C287.6,106.3 290.9,105.6 292.3,105.4C293.7,105.2 297.5,105.3 298.7,104.7C299.9,104.1 302.2,100.1 303.2,99.9C304.2,99.7 307.0,101.8 307.8,103.2C308.6,104.6 309.8,110.0 310.5,112.3C311.2,114.6 313.3,121.8 314.1,124.2C314.9,126.6 317.0,132.4 317.8,134.2C318.6,136.0 320.6,139.8 321.4,140.6C322.2,141.4 324.3,141.6 325.1,141.5C325.9,141.4 327.7,140.4 328.7,139.6C329.7,138.8 333.0,135.3 334.2,134.2C335.4,133.1 338.5,130.6 339.6,129.6C340.7,128.6 343.1,125.9 344.1,125.0C345.1,124.1 347.6,122.3 348.6,121.4C349.6,120.5 352.3,118.2 353.2,117.3C354.1,116.4 355.7,114.0 356.4,113.2C357.1,112.4 358.5,110.8 359.1,110.5C359.7,110.2 360.7,110.3 361.4,110.5C362.1,110.7 364.4,112.1 365.0,112.7C365.6,113.3 366.0,114.6 366.4,115.5C366.8,116.4 368.0,119.5 368.6,120.9C369.2,122.3 370.8,126.7 371.4,128.2C372.0,129.7 373.1,133.2 373.6,134.5C374.1,135.8 375.0,138.7 375.5,140.0C376.0,141.3 377.4,144.9 378.2,146.5C379.0,148.1 381.3,152.8 382.3,154.2C383.3,155.6 385.9,158.2 386.8,158.8C387.7,159.4 389.7,159.8 390.5,159.7C391.3,159.6 393.2,158.6 394.1,157.8C395.0,157.0 397.7,153.8 398.7,152.4C399.7,151.0 402.2,146.7 403.2,145.1C404.2,143.5 406.8,139.4 407.8,137.8C408.8,136.2 411.3,131.9 412.3,130.5C413.3,129.1 415.9,126.0 416.9,125.1C417.9,124.2 420.4,122.3 421.4,122.0C422.4,121.7 425.2,121.7 426.0,122.0C426.8,122.3 428.1,124.1 428.7,125.1C429.3,126.1 430.9,129.8 431.5,131.4C432.1,133.0 433.6,137.8 434.2,139.6C434.8,141.4 436.3,146.3 436.9,147.8C437.5,149.3 439.3,152.9 440.0,153.5C440.7,154.1 442.1,153.7 443.0,153.5C443.9,153.3 447.0,151.9 448.0,151.5C449.0,151.1 451.1,149.9 452.0,149.5C452.9,149.1 455.1,148.0 456.0,147.5C456.9,147.0 459.1,145.7 460.0,145.2C460.9,144.7 463.1,143.5 464.0,143.0C464.9,142.5 467.2,140.9 468.0,140.5C468.8,140.1 470.2,139.6 471.0,139.5C471.8,139.4 474.2,139.9 475.0,140.0C475.8,140.1 477.3,140.3 478.0,140.2C478.7,140.1 480.3,139.4 481.0,139.0C481.7,138.6 483.3,137.4 484.0,137.0C484.7,136.6 486.3,135.4 487.0,135.0C487.7,134.6 489.3,134.0 490.0,133.7C490.7,133.4 492.8,132.8 493.5,132.6C494.2,132.4 495.9,131.5 496.5,131.8C497.1,132.1 498.4,134.7 499.0,135.5C499.6,136.3 501.3,138.3 502.0,139.0C502.7,139.7 504.3,141.4 505.0,142.0C505.7,142.6 507.8,144.3 508.5,144.5C509.2,144.7 510.8,143.7 511.5,143.5C512.2,143.3 514.3,143.0 515.0,142.5C515.7,142.0 517.4,139.8 518.0,139.0C518.6,138.2 519.9,136.3 520.5,135.5C521.1,134.7 522.4,132.7 523.0,132.0C523.6,131.3 524.9,129.9 525.5,129.5C526.1,129.1 527.8,128.3 528.5,128.2C529.2,128.1 531.3,128.0 532.0,128.2C532.7,128.4 533.9,129.4 534.5,130.0C535.1,130.6 536.4,133.1 537.0,134.0C537.6,134.9 539.3,137.4 540.0,138.5C540.7,139.6 543.1,142.9 543.5,143.5" class="c c1"/>
</g>
<rect x="408.0" y="23.6" width="129.70000000000005" height="51.699999999999996" fill="#fff" stroke="#9a9a9a" stroke-width="1"/>
<path d="M410.2,30.7H427.6" class="c k"/>
<text x="429.6" y="34.5" class="lg">16/03</text>
<path d="M410.2,43.2H427.6" class="c m0"/><path d="M410.2,43.2H427.6" class="c m1"/>
<text x="429.6" y="47.0" class="lg">07/12 Medium Sand</text>
<path d="M410.2,55.6H427.6" class="c b"/>
<text x="429.6" y="59.4" class="lg">07/12 Coarse Sand (ref)</text>
<path d="M410.2,67.9H427.6" class="c c0"/><path d="M410.2,67.9H427.6" class="c c1"/>
<text x="429.6" y="71.7" class="lg">07/12 Very Coarse Sand</text>
<!-- bottom axes -->
<rect x="38.8" y="238.6" width="502.90" height="171.60" fill="#fff" stroke="#a4a4a4" stroke-width="1"/>
<path d="M38.8,410.2v-5M38.8,238.6v5M86.7,410.2v-5M86.7,238.6v5M134.61,410.2v-5M134.61,238.6v5M182.51,410.2v-5M182.51,238.6v5M230.42,410.2v-5M230.42,238.6v5M278.32,410.2v-5M278.32,238.6v5M326.23,410.2v-5M326.23,238.6v5M374.13,410.2v-5M374.13,238.6v5M422.04,410.2v-5M422.04,238.6v5M469.94,410.2v-5M469.94,238.6v5M517.85,410.2v-5M517.85,238.6v5M38.8,238.6h5M541.7,238.6h-5M38.8,286.27h5M541.7,286.27h-5M38.8,333.93h5M541.7,333.93h-5M38.8,381.6h5M541.7,381.6h-5" stroke="#a4a4a4" stroke-width="1" fill="none"/>
<text x="38.8" y="424.4" text-anchor="middle" class="tk">0</text>
<text x="86.7" y="424.4" text-anchor="middle" class="tk">200</text>
<text x="134.6" y="424.4" text-anchor="middle" class="tk">400</text>
<text x="182.5" y="424.4" text-anchor="middle" class="tk">600</text>
<text x="230.4" y="424.4" text-anchor="middle" class="tk">800</text>
<text x="278.3" y="424.4" text-anchor="middle" class="tk">1000</text>
<text x="326.2" y="424.4" text-anchor="middle" class="tk">1200</text>
<text x="374.1" y="424.4" text-anchor="middle" class="tk">1400</text>
<text x="422.0" y="424.4" text-anchor="middle" class="tk">1600</text>
<text x="469.9" y="424.4" text-anchor="middle" class="tk">1800</text>
<text x="517.8" y="424.4" text-anchor="middle" class="tk">2000</text>
<text x="35.1" y="242.9" text-anchor="end" class="tk">-20</text>
<text x="35.1" y="290.6" text-anchor="end" class="tk">-25</text>
<text x="35.1" y="338.2" text-anchor="end" class="tk">-30</text>
<text x="35.1" y="385.9" text-anchor="end" class="tk">-35</text>
<text x="288.7" y="235.2" text-anchor="middle" class="tt">Migrations Sand Waves: Influence of grain size distribution</text>
<text x="290.3" y="437.3" text-anchor="middle" class="lb">Distance (m)</text>
<text transform="translate(16.2,324.3) rotate(-90)" text-anchor="middle" class="lb">Depth (m)</text>
<g clip-path="url(#cp2)">
<path d="M38.6,397.8C40.2,397.7 50.5,396.7 53.1,396.3C55.8,395.9 60.6,394.6 62.2,394.3C63.8,393.9 66.4,393.2 67.7,393.3C68.9,393.3 71.7,394.4 73.1,394.6C74.5,394.7 78.9,394.8 80.3,394.8C81.7,394.7 84.6,394.0 85.8,393.9C87.0,393.8 90.4,393.8 91.2,393.9C92.1,394.0 92.7,394.9 93.4,394.8C94.1,394.6 96.7,393.0 97.5,392.4C98.4,391.7 100.3,390.4 101.2,389.2C102.1,388.0 104.6,383.6 105.7,381.5C106.8,379.4 110.3,373.0 111.2,370.6C112.0,368.3 113.2,362.8 113.7,360.6C114.3,358.3 115.6,352.6 116.0,350.6C116.5,348.6 117.4,344.3 117.8,342.4C118.2,340.6 119.2,335.9 119.6,334.3C120.1,332.7 121.4,329.3 121.9,328.0C122.4,326.7 123.8,324.1 124.4,322.7C125.0,321.3 126.7,317.0 127.3,315.4C127.9,313.8 129.1,309.9 129.6,308.3C130.1,306.7 131.4,302.6 131.9,301.0C132.3,299.4 133.3,295.1 133.6,293.7C134.0,292.3 134.8,289.5 135.0,288.3C135.3,287.1 135.9,284.0 136.1,282.8C136.4,281.7 136.9,279.2 137.2,278.4C137.5,277.5 138.7,276.0 139.0,275.4C139.3,274.7 139.9,273.1 140.1,272.5C140.4,271.9 140.9,270.5 141.2,270.2C141.5,269.9 142.6,270.0 143.0,269.8C143.4,269.6 144.7,268.6 145.2,268.5C145.7,268.4 147.2,268.8 147.8,269.0C148.4,269.2 149.9,270.2 150.7,270.7C151.4,271.2 153.5,272.6 154.4,273.2C155.4,273.8 157.9,275.3 158.9,275.9C159.9,276.5 162.5,277.9 163.5,278.6C164.5,279.3 167.0,281.4 168.0,282.2C169.0,283.1 171.6,285.1 172.6,285.8C173.6,286.5 176.0,288.1 177.0,288.5C178.0,289.0 180.7,289.6 181.6,289.9C182.5,290.3 184.4,291.2 185.2,291.7C186.0,292.3 188.0,294.2 188.8,294.9C189.6,295.6 191.6,297.0 192.5,297.6C193.4,298.1 195.6,299.4 196.9,299.9C198.2,300.4 202.5,301.8 204.2,302.4C205.9,303.0 210.5,304.6 212.4,305.4C214.3,306.1 219.4,308.4 221.4,309.1C223.4,309.7 228.7,310.7 230.5,311.1C232.3,311.6 236.3,312.5 237.7,313.0C239.2,313.6 241.8,315.3 243.2,316.2C244.6,317.2 249.0,320.5 250.5,321.7C252.0,322.9 255.6,326.3 256.8,327.2C258.0,328.0 260.3,329.1 261.3,329.4C262.3,329.7 264.8,330.0 265.8,329.9C266.8,329.7 269.3,328.7 270.4,328.1C271.5,327.5 274.7,325.2 275.9,324.4C277.1,323.6 280.0,321.4 281.2,320.8C282.4,320.2 285.7,319.6 286.7,319.3C287.7,319.0 289.5,318.0 290.2,318.1C290.9,318.2 292.3,319.6 292.9,320.3C293.5,321.1 295.0,323.2 295.6,324.8C296.2,326.4 297.8,332.4 298.4,334.8C299.0,337.1 300.5,343.5 301.0,345.7C301.6,348.0 303.1,353.1 303.7,354.8C304.3,356.5 305.9,360.1 306.5,361.2C307.1,362.3 308.6,364.2 309.2,364.8C309.8,365.3 311.2,366.1 311.9,366.1C312.6,366.0 314.7,365.0 315.6,364.3C316.5,363.5 319.0,360.5 320.1,359.3C321.2,358.0 324.3,354.4 325.5,353.0C326.7,351.6 329.8,348.0 331.0,346.6C332.2,345.2 335.6,341.3 336.4,340.2C337.2,339.2 337.5,338.0 338.1,337.1C338.7,336.1 341.0,332.5 341.8,331.6C342.5,330.7 343.8,329.3 344.4,328.9C345.0,328.5 346.6,328.0 347.1,328.0C347.6,328.0 348.6,328.4 349.0,328.9C349.4,329.4 350.4,331.4 350.8,332.5C351.2,333.6 352.1,337.2 352.6,338.8C353.1,340.5 354.7,345.3 355.3,347.0C355.9,348.7 357.4,352.7 358.0,354.2C358.5,355.7 359.6,359.0 360.3,360.6C360.9,362.1 362.7,366.6 363.5,368.3C364.4,370.1 367.1,375.1 368.1,376.5C369.1,377.9 371.7,380.3 372.7,381.1C373.7,381.9 376.3,383.3 377.2,383.5C378.1,383.7 380.0,383.5 380.8,383.1C381.6,382.7 383.5,381.2 384.3,380.2C385.0,379.2 387.1,375.3 387.9,373.8C388.7,372.3 390.7,368.2 391.5,366.6C392.3,364.9 394.4,360.9 395.2,359.3C396.0,357.7 398.0,353.6 398.8,352.0C399.6,350.4 401.6,346.4 402.4,344.7C403.2,343.1 405.3,338.4 406.0,337.2C406.8,335.9 408.1,334.0 408.7,333.6C409.3,333.1 411.0,332.5 411.5,333.0C412.0,333.4 412.8,335.8 413.3,337.6C413.8,339.3 415.4,346.0 416.0,348.4C416.6,350.8 418.1,357.0 418.7,359.3C419.3,361.6 420.9,367.4 421.5,369.2C422.1,371.1 423.6,374.7 424.2,375.6C424.8,376.6 426.1,377.7 426.8,377.8C427.6,377.9 429.7,377.0 430.5,376.5C431.3,376.0 433.3,374.1 434.1,373.4C434.9,372.8 436.9,370.9 437.8,370.5C438.7,370.1 441.3,370.0 442.3,369.8C443.3,369.6 445.8,369.1 446.9,368.7C447.9,368.4 450.3,367.0 451.3,366.6C452.3,366.1 454.9,365.5 455.9,365.1C456.9,364.7 459.4,363.5 460.4,363.0C461.4,362.4 464.0,360.6 465.0,360.2C466.0,359.7 468.6,359.1 469.4,359.0C470.3,358.9 471.8,359.1 472.4,359.1C473.1,359.0 474.6,358.9 475.2,358.5C475.8,358.0 477.3,355.7 478.0,355.2C478.7,354.7 480.9,354.0 481.6,353.8C482.3,353.6 483.8,352.8 484.3,353.0C484.8,353.2 485.7,354.2 486.2,355.2C486.7,356.1 488.3,360.2 488.9,361.6C489.4,363.0 490.9,366.8 491.5,367.9C492.1,369.1 493.6,371.3 494.2,371.9C494.8,372.6 496.4,373.6 497.0,373.7C497.6,373.9 499.0,373.7 499.7,373.3C500.4,373.0 502.7,371.3 503.4,370.6C504.1,369.9 505.5,368.1 506.1,367.0C506.7,365.8 508.1,362.0 508.8,360.7C509.4,359.4 510.9,356.1 511.5,355.2C512.2,354.3 513.6,353.0 514.2,352.5C514.8,352.0 516.3,350.6 516.9,350.7C517.5,350.8 519.0,353.1 519.6,353.4C520.2,353.7 521.9,353.0 522.4,353.0C522.9,353.0 523.7,352.7 524.2,353.4C524.7,354.1 526.3,357.7 526.9,358.9C527.5,360.1 529.0,363.2 529.7,364.3C530.3,365.3 531.7,367.7 532.3,368.2C532.9,368.8 534.3,369.1 535.0,369.3C535.7,369.5 538.0,370.0 538.7,370.0C539.4,370.0 541.1,369.4 541.4,369.3" class="c k"/>
<path d="M38.6,399.6C39.8,399.7 46.9,400.2 49.5,400.0C52.2,399.8 59.8,398.4 62.2,397.8C64.6,397.3 69.0,395.9 71.2,395.2C73.5,394.4 80.4,392.1 82.2,391.5C84.0,390.8 86.6,389.5 87.6,389.2C88.6,388.8 90.2,388.8 91.2,388.4C92.3,387.9 95.5,385.8 96.6,385.1C97.7,384.4 100.0,383.7 101.2,382.4C102.4,381.1 106.4,375.1 107.6,373.3C108.8,371.6 111.3,368.0 112.1,366.6C113.0,365.1 114.6,362.3 115.1,360.6C115.7,358.8 116.8,352.6 117.3,350.6C117.8,348.6 119.1,344.3 119.6,342.4C120.1,340.6 121.4,335.9 121.9,334.3C122.4,332.7 123.6,329.2 124.1,328.0C124.6,326.7 125.7,324.5 126.2,323.1C126.7,321.7 128.1,317.0 128.7,315.4C129.2,313.9 130.4,310.9 131.0,309.2C131.5,307.4 133.1,301.8 133.6,300.1C134.2,298.4 135.4,294.9 135.9,293.7C136.4,292.5 137.6,290.1 138.1,289.2C138.7,288.3 140.2,286.2 140.9,285.5C141.6,284.8 143.7,283.3 144.5,282.8C145.3,282.4 147.5,281.7 148.5,281.4C149.4,281.0 151.9,280.2 152.9,279.9C153.8,279.5 156.0,278.7 156.9,278.4C157.9,278.0 160.4,277.1 161.4,276.9C162.4,276.6 165.3,276.3 166.2,276.4C167.1,276.4 169.0,277.0 169.9,277.3C170.7,277.6 172.9,278.6 173.9,279.1C174.8,279.5 177.5,280.9 178.4,281.4C179.4,281.8 181.6,283.1 182.5,283.5C183.5,284.0 186.0,284.9 187.0,285.3C187.9,285.8 190.2,287.2 191.1,287.6C192.0,288.1 194.1,289.2 195.2,289.6C196.2,290.0 199.2,290.9 200.1,291.4C201.1,291.9 202.2,293.4 203.6,294.2C205.0,294.9 210.6,297.4 212.6,298.3C214.6,299.2 219.6,301.5 221.6,302.3C223.6,303.1 228.7,304.8 230.7,305.5C232.7,306.2 237.9,307.9 239.7,308.6C241.6,309.3 245.4,310.9 247.1,311.7C248.7,312.5 252.8,314.9 254.4,315.9C256.0,316.8 260.0,319.1 261.6,320.1C263.3,321.0 267.5,323.6 268.9,324.4C270.3,325.3 273.3,327.3 274.2,327.7C275.2,328.2 276.5,328.6 277.7,328.6C278.8,328.6 283.4,328.0 284.9,327.7C286.4,327.5 289.3,326.9 291.1,326.6C292.9,326.3 299.8,325.1 301.4,325.1C303.1,325.1 305.1,325.9 305.8,326.5C306.6,327.1 307.7,329.3 308.3,330.2C308.9,331.1 310.5,333.5 310.9,334.5C311.3,335.4 312.0,337.9 312.3,338.8C312.6,339.8 313.2,341.0 313.8,342.8C314.3,344.7 316.5,353.2 317.3,355.3C318.0,357.4 319.9,360.9 320.6,361.7C321.3,362.5 323.0,362.7 323.7,362.6C324.5,362.5 326.3,361.5 327.3,360.7C328.3,359.9 331.6,356.4 332.8,355.3C334.0,354.2 337.1,351.8 338.2,350.8C339.3,349.7 341.7,347.1 342.6,346.2C343.6,345.3 346.1,343.5 347.1,342.6C348.1,341.7 350.8,339.0 351.7,338.3C352.6,337.5 354.2,336.1 354.9,335.7C355.5,335.2 356.8,334.4 357.6,334.3C358.3,334.2 360.9,334.5 361.7,334.8C362.4,335.1 363.8,336.5 364.3,337.1C364.9,337.7 366.1,339.2 366.6,340.1C367.1,341.0 368.4,344.0 368.9,345.1C369.4,346.3 370.6,349.4 371.1,350.6C371.6,351.8 373.0,355.1 373.4,356.1C373.8,357.1 374.4,358.4 374.8,359.7C375.2,360.9 376.6,365.6 377.4,367.3C378.1,369.1 380.5,373.7 381.4,375.0C382.3,376.4 384.7,379.0 385.5,379.6C386.3,380.2 388.1,380.6 388.8,380.5C389.6,380.4 391.5,379.4 392.4,378.6C393.3,377.8 396.0,374.6 397.0,373.2C398.0,371.8 400.5,367.6 401.5,366.0C402.5,364.3 405.0,360.3 406.0,358.7C407.1,357.1 409.5,352.8 410.5,351.4C411.5,350.0 414.1,347.0 415.1,346.0C416.1,345.1 418.6,343.3 419.6,342.9C420.6,342.6 423.5,342.6 424.4,342.9C425.3,343.3 427.0,345.0 427.6,346.0C428.3,347.1 429.7,350.7 430.3,352.3C430.9,353.9 432.4,358.7 433.0,360.5C433.6,362.3 435.0,367.1 435.6,368.6C436.3,370.2 437.9,373.9 438.5,374.3C439.1,374.8 440.3,372.7 441.0,372.5C441.7,372.3 444.1,372.6 445.0,372.5C445.9,372.4 448.1,371.5 449.0,371.2C449.9,370.9 452.1,370.0 453.0,369.5C453.9,369.0 456.1,367.6 457.0,367.0C457.9,366.4 460.1,365.1 461.0,364.5C461.9,363.9 464.1,362.4 465.0,362.0C465.9,361.6 468.1,360.6 469.0,360.5C469.9,360.4 472.2,360.7 473.0,360.8C473.8,360.9 475.3,361.3 476.0,361.2C476.7,361.1 478.3,360.4 479.0,360.0C479.7,359.6 481.3,358.4 482.0,358.0C482.7,357.6 484.3,356.4 485.0,356.0C485.7,355.6 487.3,354.8 488.0,354.5C488.7,354.2 490.3,353.5 491.0,353.3C491.7,353.1 493.8,352.3 494.5,352.5C495.2,352.7 496.8,354.3 497.5,355.0C498.2,355.7 499.8,357.8 500.5,358.5C501.2,359.2 502.9,360.9 503.5,361.5C504.1,362.1 505.3,363.2 506.0,363.5C506.7,363.8 508.7,364.5 509.5,364.5C510.3,364.5 512.3,364.0 513.0,363.5C513.7,363.0 515.3,360.9 516.0,360.0C516.7,359.1 518.3,356.4 519.0,355.5C519.7,354.6 521.3,352.2 522.0,351.5C522.7,350.8 524.2,349.8 525.0,349.5C525.8,349.2 528.7,348.7 529.5,348.8C530.3,348.9 531.9,349.9 532.5,350.5C533.1,351.1 534.4,353.2 535.0,354.0C535.6,354.8 536.9,356.7 537.5,357.5C538.1,358.3 539.5,360.8 540.0,361.5C540.5,362.2 541.5,363.5 541.7,363.8" class="c b"/>
<path d="M38.6,399.2C39.8,399.2 46.9,399.5 49.5,399.2C52.2,399.0 59.8,397.6 62.2,397.0C64.6,396.5 69.0,394.9 71.2,394.3C73.5,393.6 80.4,391.5 82.2,390.9C84.0,390.2 86.6,388.9 87.6,388.6C88.6,388.2 90.2,388.3 91.2,387.8C92.3,387.3 95.6,384.8 96.6,384.2C97.7,383.5 99.7,383.3 100.6,381.9C101.5,380.5 103.9,373.9 104.8,371.5C105.7,369.2 108.0,362.9 108.8,360.6C109.5,358.2 110.9,352.8 111.5,350.6C112.0,348.4 113.6,342.7 114.1,340.6C114.7,338.6 116.0,334.2 116.4,332.5C116.9,330.8 117.9,326.3 118.2,325.2C118.5,324.1 118.9,323.4 119.2,322.2C119.5,321.0 120.6,316.1 121.0,314.5C121.4,312.9 122.2,309.2 122.7,307.8C123.2,306.3 125.2,302.9 125.9,301.4C126.6,299.9 128.4,295.8 129.1,294.2C129.8,292.6 131.2,288.2 131.8,286.9C132.4,285.6 133.5,283.3 134.1,282.3C134.7,281.4 136.2,279.3 136.8,278.8C137.4,278.2 138.9,277.3 139.5,277.2C140.1,277.0 141.7,277.0 142.3,277.2C142.9,277.3 144.4,278.1 145.0,278.6C145.6,279.0 146.8,280.6 147.3,281.1C147.8,281.5 148.9,282.1 149.5,282.2C150.1,282.4 151.7,282.3 152.3,282.2C152.9,282.2 153.9,282.0 155.0,281.9C156.1,281.9 160.5,281.4 161.9,281.5C163.3,281.7 166.8,283.0 168.0,283.5C169.2,284.1 171.6,286.1 172.6,286.7C173.6,287.4 176.0,288.9 177.0,289.3C178.0,289.8 180.7,290.5 181.6,290.8C182.5,291.1 184.4,291.8 185.2,292.2C186.0,292.6 188.0,293.9 188.8,294.4C189.6,294.9 191.6,296.2 192.5,296.7C193.4,297.2 195.7,298.0 196.9,298.5C198.1,299.0 201.6,300.2 203.3,300.9C205.0,301.5 210.4,303.7 212.4,304.5C214.4,305.3 219.4,307.3 221.4,308.1C223.4,308.8 228.7,310.5 230.5,311.1C232.3,311.8 236.1,313.3 237.7,314.1C239.4,314.9 243.4,317.5 245.0,318.4C246.6,319.4 250.7,321.7 252.3,322.6C253.9,323.5 257.9,325.7 259.5,326.3C261.2,326.9 265.2,327.9 266.8,328.1C268.4,328.3 272.4,328.2 274.0,328.1C275.6,328.0 279.6,327.7 281.2,327.5C282.9,327.3 287.4,326.5 288.5,326.3C289.6,326.1 290.2,325.7 291.1,325.7C292.0,325.7 295.6,325.7 296.6,326.1C297.6,326.5 299.4,328.3 300.2,329.4C300.9,330.5 302.9,334.1 303.7,335.8C304.5,337.4 306.6,342.1 307.4,343.9C308.2,345.7 310.2,350.5 311.0,352.0C311.8,353.5 313.9,356.6 314.7,357.5C315.5,358.4 317.5,360.0 318.3,360.2C319.1,360.4 320.9,359.9 321.9,359.3C323.0,358.7 326.1,355.9 327.3,354.8C328.5,353.7 331.6,350.5 332.8,349.3C334.0,348.1 337.1,345.1 338.2,343.9C339.3,342.7 341.8,339.3 342.6,338.4C343.5,337.4 345.5,335.6 346.2,335.2C347.0,334.7 348.7,334.3 349.4,334.3C350.1,334.3 351.8,334.8 352.6,335.2C353.4,335.5 355.5,336.8 356.2,337.5C356.9,338.1 358.4,339.7 359.0,340.6C359.6,341.6 361.1,344.9 361.7,346.1C362.3,347.3 363.7,350.4 364.3,351.5C364.9,352.7 366.5,355.5 367.0,356.5C367.6,357.5 368.7,359.3 369.3,360.6C370.0,361.9 371.7,366.8 372.7,368.3C373.7,369.9 376.9,373.6 378.0,374.7C379.1,375.8 381.5,377.8 382.5,378.3C383.5,378.9 386.1,379.6 387.0,379.6C387.9,379.6 389.7,379.1 390.6,378.3C391.5,377.6 394.2,374.3 395.2,372.9C396.2,371.5 398.7,367.4 399.7,365.7C400.7,363.9 403.2,359.3 404.3,357.5C405.3,355.7 407.8,350.7 408.7,349.3C409.6,347.9 411.6,345.4 412.4,344.7C413.2,344.0 415.2,343.1 416.0,342.9C416.8,342.8 418.8,342.8 419.6,343.3C420.4,343.8 422.5,346.2 423.3,347.5C424.1,348.8 426.0,353.1 426.8,354.8C427.7,356.5 429.7,361.4 430.5,363.0C431.3,364.6 433.3,368.0 434.1,369.2C434.9,370.5 437.1,374.1 438.0,374.5C438.9,374.9 441.1,372.9 442.0,372.5C442.9,372.1 445.1,370.9 446.0,370.5C446.9,370.1 449.1,368.9 450.0,368.5C450.9,368.1 453.1,367.0 454.0,366.5C454.9,366.0 457.1,364.6 458.0,364.0C458.9,363.4 461.2,361.5 462.0,361.0C462.8,360.5 464.3,359.5 465.0,359.2C465.7,358.9 467.2,358.5 468.0,358.5C468.8,358.5 471.2,358.7 472.0,358.8C472.8,358.9 474.3,359.1 475.0,359.0C475.7,358.9 477.3,358.1 478.0,357.8C478.7,357.5 480.3,356.5 481.0,356.2C481.7,355.9 483.3,355.1 484.0,354.8C484.7,354.5 486.3,353.9 487.0,353.8C487.7,353.7 489.3,353.7 490.0,353.8C490.7,353.9 492.4,354.2 493.0,354.5C493.6,354.8 494.4,355.8 495.0,356.5C495.6,357.2 497.3,359.7 498.0,360.5C498.7,361.3 500.3,363.4 501.0,364.0C501.7,364.6 503.4,365.9 504.0,366.2C504.6,366.5 505.8,366.7 506.5,366.5C507.2,366.3 509.3,365.1 510.0,364.5C510.7,363.9 512.3,362.3 513.0,361.5C513.7,360.7 515.3,357.9 516.0,357.0C516.7,356.1 518.3,353.8 519.0,353.0C519.7,352.2 521.3,350.4 522.0,350.0C522.7,349.6 524.2,349.1 525.0,349.0C525.8,348.9 528.2,348.8 529.0,349.0C529.8,349.2 531.4,349.9 532.0,350.5C532.6,351.1 533.9,353.1 534.5,354.0C535.1,354.9 536.4,357.5 537.0,358.5C537.6,359.5 539.0,362.1 539.5,363.0C540.0,363.9 541.5,365.9 541.7,366.3" class="c m0"/><path d="M38.6,399.2C39.8,399.2 46.9,399.5 49.5,399.2C52.2,399.0 59.8,397.6 62.2,397.0C64.6,396.5 69.0,394.9 71.2,394.3C73.5,393.6 80.4,391.5 82.2,390.9C84.0,390.2 86.6,388.9 87.6,388.6C88.6,388.2 90.2,388.3 91.2,387.8C92.3,387.3 95.6,384.8 96.6,384.2C97.7,383.5 99.7,383.3 100.6,381.9C101.5,380.5 103.9,373.9 104.8,371.5C105.7,369.2 108.0,362.9 108.8,360.6C109.5,358.2 110.9,352.8 111.5,350.6C112.0,348.4 113.6,342.7 114.1,340.6C114.7,338.6 116.0,334.2 116.4,332.5C116.9,330.8 117.9,326.3 118.2,325.2C118.5,324.1 118.9,323.4 119.2,322.2C119.5,321.0 120.6,316.1 121.0,314.5C121.4,312.9 122.2,309.2 122.7,307.8C123.2,306.3 125.2,302.9 125.9,301.4C126.6,299.9 128.4,295.8 129.1,294.2C129.8,292.6 131.2,288.2 131.8,286.9C132.4,285.6 133.5,283.3 134.1,282.3C134.7,281.4 136.2,279.3 136.8,278.8C137.4,278.2 138.9,277.3 139.5,277.2C140.1,277.0 141.7,277.0 142.3,277.2C142.9,277.3 144.4,278.1 145.0,278.6C145.6,279.0 146.8,280.6 147.3,281.1C147.8,281.5 148.9,282.1 149.5,282.2C150.1,282.4 151.7,282.3 152.3,282.2C152.9,282.2 153.9,282.0 155.0,281.9C156.1,281.9 160.5,281.4 161.9,281.5C163.3,281.7 166.8,283.0 168.0,283.5C169.2,284.1 171.6,286.1 172.6,286.7C173.6,287.4 176.0,288.9 177.0,289.3C178.0,289.8 180.7,290.5 181.6,290.8C182.5,291.1 184.4,291.8 185.2,292.2C186.0,292.6 188.0,293.9 188.8,294.4C189.6,294.9 191.6,296.2 192.5,296.7C193.4,297.2 195.7,298.0 196.9,298.5C198.1,299.0 201.6,300.2 203.3,300.9C205.0,301.5 210.4,303.7 212.4,304.5C214.4,305.3 219.4,307.3 221.4,308.1C223.4,308.8 228.7,310.5 230.5,311.1C232.3,311.8 236.1,313.3 237.7,314.1C239.4,314.9 243.4,317.5 245.0,318.4C246.6,319.4 250.7,321.7 252.3,322.6C253.9,323.5 257.9,325.7 259.5,326.3C261.2,326.9 265.2,327.9 266.8,328.1C268.4,328.3 272.4,328.2 274.0,328.1C275.6,328.0 279.6,327.7 281.2,327.5C282.9,327.3 287.4,326.5 288.5,326.3C289.6,326.1 290.2,325.7 291.1,325.7C292.0,325.7 295.6,325.7 296.6,326.1C297.6,326.5 299.4,328.3 300.2,329.4C300.9,330.5 302.9,334.1 303.7,335.8C304.5,337.4 306.6,342.1 307.4,343.9C308.2,345.7 310.2,350.5 311.0,352.0C311.8,353.5 313.9,356.6 314.7,357.5C315.5,358.4 317.5,360.0 318.3,360.2C319.1,360.4 320.9,359.9 321.9,359.3C323.0,358.7 326.1,355.9 327.3,354.8C328.5,353.7 331.6,350.5 332.8,349.3C334.0,348.1 337.1,345.1 338.2,343.9C339.3,342.7 341.8,339.3 342.6,338.4C343.5,337.4 345.5,335.6 346.2,335.2C347.0,334.7 348.7,334.3 349.4,334.3C350.1,334.3 351.8,334.8 352.6,335.2C353.4,335.5 355.5,336.8 356.2,337.5C356.9,338.1 358.4,339.7 359.0,340.6C359.6,341.6 361.1,344.9 361.7,346.1C362.3,347.3 363.7,350.4 364.3,351.5C364.9,352.7 366.5,355.5 367.0,356.5C367.6,357.5 368.7,359.3 369.3,360.6C370.0,361.9 371.7,366.8 372.7,368.3C373.7,369.9 376.9,373.6 378.0,374.7C379.1,375.8 381.5,377.8 382.5,378.3C383.5,378.9 386.1,379.6 387.0,379.6C387.9,379.6 389.7,379.1 390.6,378.3C391.5,377.6 394.2,374.3 395.2,372.9C396.2,371.5 398.7,367.4 399.7,365.7C400.7,363.9 403.2,359.3 404.3,357.5C405.3,355.7 407.8,350.7 408.7,349.3C409.6,347.9 411.6,345.4 412.4,344.7C413.2,344.0 415.2,343.1 416.0,342.9C416.8,342.8 418.8,342.8 419.6,343.3C420.4,343.8 422.5,346.2 423.3,347.5C424.1,348.8 426.0,353.1 426.8,354.8C427.7,356.5 429.7,361.4 430.5,363.0C431.3,364.6 433.3,368.0 434.1,369.2C434.9,370.5 437.1,374.1 438.0,374.5C438.9,374.9 441.1,372.9 442.0,372.5C442.9,372.1 445.1,370.9 446.0,370.5C446.9,370.1 449.1,368.9 450.0,368.5C450.9,368.1 453.1,367.0 454.0,366.5C454.9,366.0 457.1,364.6 458.0,364.0C458.9,363.4 461.2,361.5 462.0,361.0C462.8,360.5 464.3,359.5 465.0,359.2C465.7,358.9 467.2,358.5 468.0,358.5C468.8,358.5 471.2,358.7 472.0,358.8C472.8,358.9 474.3,359.1 475.0,359.0C475.7,358.9 477.3,358.1 478.0,357.8C478.7,357.5 480.3,356.5 481.0,356.2C481.7,355.9 483.3,355.1 484.0,354.8C484.7,354.5 486.3,353.9 487.0,353.8C487.7,353.7 489.3,353.7 490.0,353.8C490.7,353.9 492.4,354.2 493.0,354.5C493.6,354.8 494.4,355.8 495.0,356.5C495.6,357.2 497.3,359.7 498.0,360.5C498.7,361.3 500.3,363.4 501.0,364.0C501.7,364.6 503.4,365.9 504.0,366.2C504.6,366.5 505.8,366.7 506.5,366.5C507.2,366.3 509.3,365.1 510.0,364.5C510.7,363.9 512.3,362.3 513.0,361.5C513.7,360.7 515.3,357.9 516.0,357.0C516.7,356.1 518.3,353.8 519.0,353.0C519.7,352.2 521.3,350.4 522.0,350.0C522.7,349.6 524.2,349.1 525.0,349.0C525.8,348.9 528.2,348.8 529.0,349.0C529.8,349.2 531.4,349.9 532.0,350.5C532.6,351.1 533.9,353.1 534.5,354.0C535.1,354.9 536.4,357.5 537.0,358.5C537.6,359.5 539.0,362.1 539.5,363.0C540.0,363.9 541.5,365.9 541.7,366.3" class="c m1"/>
</g>
<rect x="424.3" y="244.6" width="111.49999999999994" height="38.50000000000003" fill="#fff" stroke="#9a9a9a" stroke-width="1"/>
<path d="M426.5,251.8H442.7" class="c k"/>
<text x="445.5" y="255.6" class="lg">16/03</text>
<path d="M426.5,264.3H442.7" class="c b"/>
<text x="445.5" y="268.1" class="lg">07/12 Constant (ref)</text>
<path d="M426.5,276.6H442.7" class="c m0"/><path d="M426.5,276.6H442.7" class="c m1"/>
<text x="445.5" y="280.4" class="lg">07/12 Varying</text>
<defs><clipPath id="cp1"><rect x="38.5" y="17.5" width="506" height="172"/></clipPath>
<clipPath id="cp2"><rect x="38.5" y="238.5" width="503" height="172"/></clipPath></defs>
</svg>
</body></html>
